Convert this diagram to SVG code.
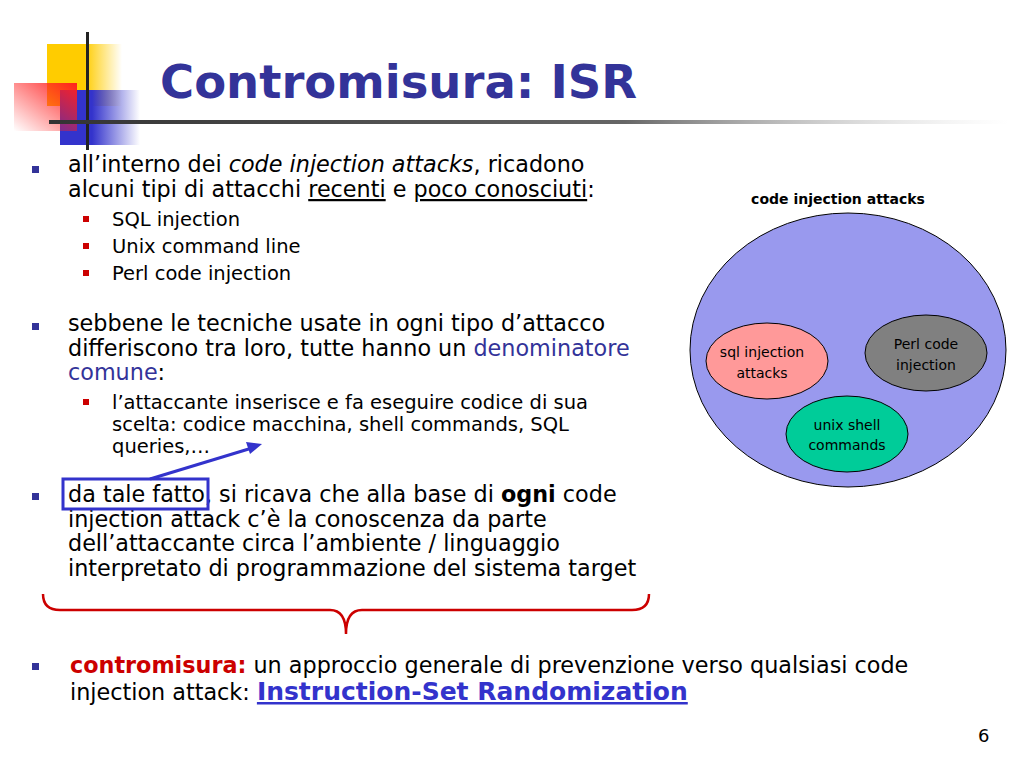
<svg xmlns="http://www.w3.org/2000/svg" width="1024" height="768" viewBox="0 0 1024 768">
<style>
text{font-family:"DejaVu Sans",Verdana,sans-serif;fill:#000}
.b1{font-size:22.3px}
.b2{font-size:19.5px}
.sm{font-size:14px}
.bl{fill:#333399}
.red{fill:#cc0000}
</style>
<defs>
<linearGradient id="gy" x1="0" x2="1"><stop offset="0.5" stop-color="#ffcc00"/><stop offset="1" stop-color="#ffcc00" stop-opacity="0"/></linearGradient>
<linearGradient id="gb" x1="0" x2="1"><stop offset="0.4" stop-color="#3333cc"/><stop offset="1" stop-color="#3333cc" stop-opacity="0"/></linearGradient>
<linearGradient id="gr" x1="1" y1="0" x2="0" y2="1"><stop offset="0" stop-color="#ff2020"/><stop offset="1" stop-color="#ff2020" stop-opacity="0"/></linearGradient>
<linearGradient id="gl" x1="0" x2="1"><stop offset="0" stop-color="#333"/><stop offset="0.6" stop-color="#666"/><stop offset="1" stop-color="#ccc" stop-opacity="0"/></linearGradient>
</defs>
<g id="logo">
<rect x="47" y="44" width="75" height="62" fill="url(#gy)"/>
<rect x="60" y="90" width="80" height="55" fill="url(#gb)"/>
<rect x="14" y="83" width="63" height="48" fill="url(#gr)"/>
<rect x="86" y="32" width="3" height="118" fill="#222"/>
<rect x="49" y="120" width="960" height="4" fill="url(#gl)"/>
</g>
<text x="160" y="98" style="font-size:46.5px;font-weight:bold" class="bl">Contromisura: ISR</text>
<g id="bullets">
<g fill="#333399"><rect x="32" y="166" width="7" height="7"/><rect x="32" y="323" width="7" height="7"/><rect x="32" y="493" width="7" height="7"/><rect x="32" y="663" width="7" height="7"/></g>
<g fill="#cc0000"><rect x="83" y="216" width="6" height="6"/><rect x="83" y="243" width="6" height="6"/><rect x="83" y="270" width="6" height="6"/><rect x="83" y="399" width="6" height="6"/></g>
<text class="b1" x="68" y="172">all’interno dei <tspan font-style="italic">code injection attacks</tspan>, ricadono</text>
<text class="b1" x="68" y="197">alcuni tipi di attacchi <tspan text-decoration="underline">recenti</tspan> e <tspan text-decoration="underline">poco conosciuti</tspan>:</text>
<text class="b2" x="112" y="226">SQL injection</text>
<text class="b2" x="112" y="253">Unix command line</text>
<text class="b2" x="112" y="280">Perl code injection</text>
<text class="b1" x="68" y="331">sebbene le tecniche usate in ogni tipo d’attacco</text>
<text class="b1" x="68" y="356">differiscono tra loro, tutte hanno un <tspan class="bl">denominatore</tspan></text>
<text class="b1" x="68" y="380"><tspan class="bl">comune</tspan>:</text>
<text class="b2" x="112" y="409">l’attaccante inserisce e fa eseguire codice di sua</text>
<text class="b2" x="112" y="431">scelta: codice macchina, shell commands, SQL</text>
<text class="b2" x="112" y="453">queries,…</text>
<text class="b1" x="68" y="502">da tale fatto, si ricava che alla base di <tspan font-weight="bold">ogni</tspan> code</text>
<text class="b1" x="68" y="527">injection attack c’è la conoscenza da parte</text>
<text class="b1" x="68" y="551">dell’attaccante circa l’ambiente / linguaggio</text>
<text class="b1" x="68" y="576">interpretato di programmazione del sistema target</text>
<text class="b1" x="70" y="673"><tspan class="red" font-weight="bold">contromisura:</tspan> un approccio generale di prevenzione verso qualsiasi code</text>
<text class="b1" x="70" y="700">injection attack: <tspan font-weight="bold" font-size="25px" text-decoration="underline" fill="#3333cc">Instruction-Set Randomization</tspan></text>
<text x="978" y="742" style="font-size:18px">6</text>
</g>
<g id="connectors" fill="none">
<rect x="63" y="479" width="145" height="30" stroke="#3333cc" stroke-width="3"/>
<line x1="150" y1="479" x2="252" y2="448" stroke="#3333cc" stroke-width="3"/>
<polygon points="262,444 246,442 250,454" fill="#3333cc"/>
<path d="M43,594 Q43,610 60,610 L330,610 Q346,610 346,634 Q346,610 362,610 L632,610 Q649,610 649,594" stroke="#cc0000" stroke-width="2.5"/>
</g>
<g id="diagram">
<text x="838" y="204" text-anchor="middle" style="font-size:14px;font-weight:bold">code injection attacks</text>
<ellipse id="outer" cx="848" cy="350" rx="158" ry="137" fill="#9999ee" stroke="#000" stroke-width="1"/>
<g id="sql"><ellipse cx="767" cy="361" rx="61" ry="38" fill="#ff9999" stroke="#000"/>
<text class="sm" x="762" y="357" text-anchor="middle">sql injection</text><text class="sm" x="762" y="378" text-anchor="middle">attacks</text></g>
<g id="perl"><ellipse cx="926" cy="353" rx="61" ry="38" fill="#808080" stroke="#000"/>
<text class="sm" x="926" y="349" text-anchor="middle">Perl code</text><text class="sm" x="926" y="370" text-anchor="middle">injection</text></g>
<g id="unix"><ellipse cx="847" cy="434" rx="61" ry="38" fill="#00cc99" stroke="#000"/>
<text class="sm" x="847" y="430" text-anchor="middle">unix shell</text><text class="sm" x="847" y="450" text-anchor="middle">commands</text></g>
</g>
</svg>
